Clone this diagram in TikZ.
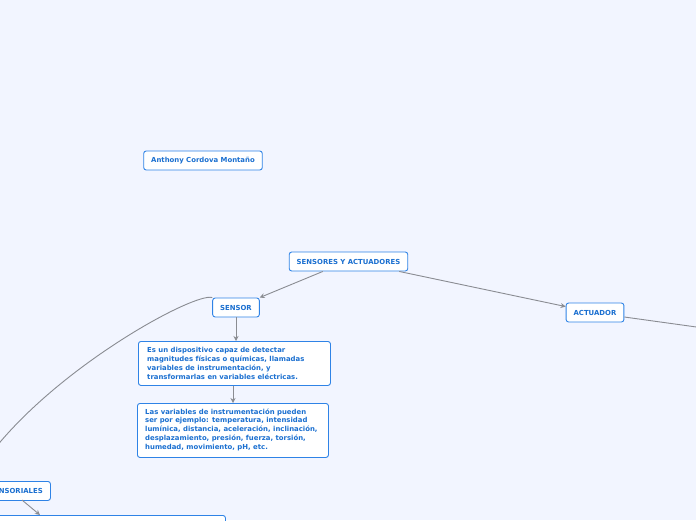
\documentclass[tikz,border=0pt]{standalone}
\usepackage{fontspec}
\setmainfont{DejaVu Sans}
\definecolor{bg}{HTML}{F2F5FF}
\definecolor{nodeblue}{HTML}{2F83E6}
\definecolor{textblue}{HTML}{1A6FD0}
\definecolor{edgegray}{HTML}{8A8C92}
\usetikzlibrary{arrows.meta}
\tikzset{
  topic/.style={draw=nodeblue, fill=white, line width=0.9pt, rounded corners=2.5pt,
    font=\fontsize{6.9}{8}\selectfont\bfseries, text=textblue, inner xsep=7.5pt, inner ysep=0pt,
    minimum height=19pt},
  textbox/.style={draw=nodeblue, fill=white, line width=0.9pt, rounded corners=2.5pt,
    anchor=north west, inner sep=0pt},
  bodytext/.style={anchor=north west, font=\fontsize{6.9}{8.7}\selectfont\bfseries,
    text=textblue, align=left, inner sep=0pt},
  conn/.style={draw=edgegray, line width=0.9pt},
  arr/.style={conn, -{Stealth[length=5pt,width=5pt]}}
}
\begin{document}
\begin{tikzpicture}[x=1pt,y=-1pt]
\fill[bg] (0,0) rectangle (696,520);
\useasboundingbox (0,0) rectangle (696,520);
\clip (0,0) rectangle (696,520);

\node[topic] (author) at (203,160.5) {Anthony Cordova Montaño};
\node[topic] (root) at (348.5,261.5) {SENSORES Y ACTUADORES};
\node[topic] (sensor) at (236,307.5) {SENSOR};
\node[topic] (actuador) at (595,312.5) {ACTUADOR};
\node[textbox, minimum width=192pt, minimum height=44pt] (def) at (138,341) {};
\node[bodytext] (deftext) at (147,347.5)
 {Es un dispositivo capaz de detectar\\magnitudes físicas o químicas, llamadas\\variables de instrumentación, y\\transformarlas en variables eléctricas.};
\node[textbox, minimum width=191pt, minimum height=54pt] (ex) at (137,403) {};
\node[bodytext] (extext) at (145,408.5)
 {Las variables de instrumentación pueden\\ser por ejemplo: temperatura, intensidad\\lumínica, distancia, aceleración, inclinación,\\desplazamiento, presión, fuerza, torsión,\\humedad, movimiento, pH, etc.};
\node[textbox, minimum width=80pt, minimum height=19pt] (sensoriales) at (-30,481) {};
\node[anchor=east, font=\fontsize{6.9}{8}\selectfont\bfseries, text=textblue, inner sep=0pt] (sensorialestext) at (43,490.5) {NSORIALES};
\node[textbox, minimum width=260pt, minimum height=30pt] (bottom) at (-35,515) {};
\coordinate (offright) at (700,327.5);
\coordinate (offleft) at (-8,452);

\draw[arr] (root.south west) ++(34,0) -- (sensor.north east);
\draw[arr] (root.south east) ++(-9,0) -- ([yshift=-4pt]actuador.north west);
\draw[conn] ([yshift=-4.5pt]actuador.east) -- (offright);
\draw[arr] (sensor.south) -- (def.north -| sensor.south);
\draw[arr] (def.south -| 233,0) -- (ex.north -| 233,0);
\draw[conn] (sensor.north west) .. controls (195,292) and (60,365) .. (offleft);
\draw[arr] (22,500) -- (40,515);
\end{tikzpicture}
\end{document}
